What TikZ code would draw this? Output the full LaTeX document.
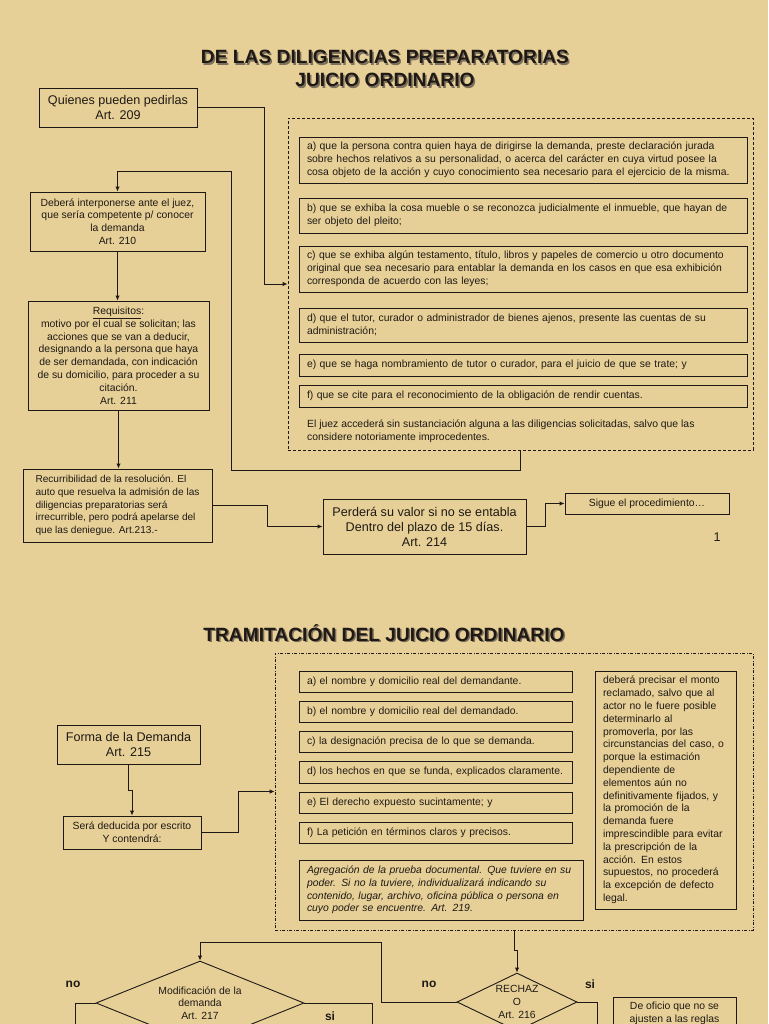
\documentclass[tikz,border=0pt]{standalone}
\usepackage{fontspec}
\setmainfont{Liberation Sans}
\usetikzlibrary{arrows.meta,shapes.geometric,calc}
\definecolor{parch}{RGB}{231,208,152}
\definecolor{ink}{RGB}{30,25,20}
\definecolor{shade}{RGB}{125,112,92}
\begin{document}
\begin{tikzpicture}[x=1pt,y=-1pt,
  box/.style={draw=ink, line width=0.9pt, inner sep=0pt, text=ink, align=center},
  lbox/.style={box, align=left, inner xsep=8pt},
  small/.style={font=\fontsize{10.4}{12.8}\selectfont},
  big/.style={font=\fontsize{12.6}{15}\selectfont},
  mid/.style={font=\fontsize{12.6}{15}\selectfont},
  title/.style={font=\fontsize{19.2}{23}\selectfont\bfseries, text=ink, inner sep=0pt},
  shadow/.style={font=\fontsize{19.2}{23}\selectfont\bfseries, text=shade, inner sep=0pt},
  dbox1/.style={draw=ink, line width=0.8pt, dash pattern=on 3pt off 2pt, inner sep=0pt},
  dbox2/.style={draw=ink, line width=0.8pt, dash pattern=on 3pt off 1.5pt on 1pt off 1.5pt, inner sep=0pt},
  conn/.style={draw=ink, line width=1pt},
  arr/.style={conn, -{Latex[length=5pt,width=4.5pt]}},
  yn/.style={font=\fontsize{12}{14}\selectfont\bfseries, text=ink, inner sep=0pt},
  dia/.style={draw=ink, line width=0.9pt, diamond, inner sep=0pt, align=center, text=ink, small}
]
\useasboundingbox (0,0) rectangle (768,1024);
\fill[parch] (0,0) rectangle (768,1024);
\clip (0,0) rectangle (768,1024);

% ---------- titles ----------
\node[shadow] (t1s) at (386.5,58.5) {DE LAS DILIGENCIAS PREPARATORIAS};
\node[title] (t1) at (385,57) {DE LAS DILIGENCIAS PREPARATORIAS};
\node[shadow] (t2s) at (386.5,81.5) {JUICIO ORDINARIO};
\node[title] (t2) at (385,80) {JUICIO ORDINARIO};
\node[shadow] (t3s) at (385.5,634.5) {TRAMITACIÓN DEL JUICIO ORDINARIO};
\node[title] (t3) at (384,633) {TRAMITACIÓN DEL JUICIO ORDINARIO};

% ---------- section 1 ----------
\node[box, big, minimum width=158, minimum height=39] (q) at (118,107.5) {Quienes pueden pedirlas\\Art. 209};
\node[box, small, minimum width=175, minimum height=59] (deb) at (117.5,221.5)
  {Deberá interponerse ante el juez,\\que sería competente p/ conocer\\la demanda\\Art. 210};
\node[box, small, minimum width=181, minimum height=109] (req) at (118.5,355.5)
  {\underline{Requisitos}:\\motivo por el cual se solicitan; las\\acciones que se van a deducir,\\designando a la persona que haya\\de ser demandada, con indicación\\de su domicilio, para proceder a su\\citación.\\Art. 211};
\node[box, font=\fontsize{10.1}{12.8}\selectfont, align=left, minimum width=189, minimum height=73] (rec) at (117.5,505.5)
  {Recurribilidad de la resolución. El\\auto que resuelva la admisión de las\\diligencias preparatorias será\\irrecurrible, pero podrá apelarse del\\que las deniegue. Art.213.-};
\node[box, mid, minimum width=203, minimum height=55] (perd) at (424.5,526.5)
  {Perderá su valor si no se entabla\\Dentro del plazo de 15 días.\\Art. 214};
\node[box, small, minimum width=164, minimum height=21] (sig) at (647,503.5) {Sigue el procedimiento…};
\node[mid, text=ink, inner sep=0pt] (pg) at (717,537) {1};

\node[dbox1, minimum width=465, minimum height=332] (d1) at (520.5,284) {};
\node[lbox, small, text width=432, minimum height=46] (ia) at (523,160)
  {a) que la persona contra quien haya de dirigirse la demanda, preste declaración jurada\\sobre hechos relativos a su personalidad, o acerca del carácter en cuya virtud posee la\\cosa objeto de la acción y cuyo conocimiento sea necesario para el ejercicio de la misma.};
\node[lbox, small, text width=432, minimum height=35] (ib) at (523,215.5)
  {b) que se exhiba la cosa mueble o se reconozca judicialmente el inmueble, que hayan de\\ser objeto del pleito;};
\node[lbox, small, text width=432, minimum height=46] (ic) at (523,269)
  {c) que se exhiba algún testamento, título, libros y papeles de comercio u otro documento\\original que sea necesario para entablar la demanda en los casos en que esa exhibición\\corresponda de acuerdo con las leyes;};
\node[lbox, small, text width=432, minimum height=34] (id) at (523,325)
  {d) que el tutor, curador o administrador de bienes ajenos, presente las cuentas de su\\administración;};
\node[lbox, small, text width=432, minimum height=22] (ie) at (523,365)
  {e) que se haga nombramiento de tutor o curador, para el juicio de que se trate; y};
\node[lbox, small, text width=432, minimum height=22] (if) at (523,396)
  {f) que se cite para el reconocimiento de la obligación de rendir cuentas.};
\node[small, text=ink, align=left, inner sep=0pt, anchor=west] (jt) at (307,431)
  {El juez accederá sin sustanciación alguna a las diligencias solicitadas, salvo que las\\considere notoriamente improcedentes.};

\draw[arr] (q.east) -- (264,107.5) |- (d1.west);
\draw[arr] (d1.south) |- (231,470) -- (231,172) -| (deb.north);
\draw[arr] (deb.south) -- (deb.south |- req.north);
\draw[arr] (req.south) -- (req.south |- rec.north);
\draw[arr] (rec.east) -- (267,505.5) |- (perd.west);
\draw[arr] (perd.east) -- (545,526.5) |- (sig.west);

% ---------- section 2 ----------
\node[dbox2, minimum width=478, minimum height=277] (d2) at (514,791.5) {};
\node[lbox, small, text width=257, minimum height=21] (ja) at (435.5,681.5) {a) el nombre y domicilio real del demandante.};
\node[lbox, small, text width=257, minimum height=21] (jb) at (435.5,711.5) {b) el nombre y domicilio real del demandado.};
\node[lbox, small, text width=257, minimum height=21] (jc) at (435.5,741.5) {c) la designación precisa de lo que se demanda.};
\node[lbox, small, text width=257, minimum height=22] (jd) at (435.5,772) {d) los hechos en que se funda, explicados claramente.};
\node[lbox, small, text width=257, minimum height=21] (je) at (435.5,802.5) {e) El derecho expuesto sucintamente; y};
\node[lbox, small, text width=257, minimum height=21] (jf) at (435.5,832.5) {f) La petición en términos claros y precisos.};
\node[lbox, small, font=\fontsize{10.4}{12.8}\selectfont\itshape, text width=268, minimum height=60] (agr) at (441,890)
  {Agregación de la prueba documental. Que tuviere en su\\poder. Si no la tuviere, individualizará indicando su\\contenido, lugar, archivo, oficina pública o persona en\\cuyo poder se encuentre. Art. 219.};
\node[lbox, small, text width=125, minimum height=238] (dp) at (665.5,790)
  {deberá precisar el monto\\reclamado, salvo que al\\actor no le fuere posible\\determinarlo al\\promoverla, por las\\circunstancias del caso, o\\porque la estimación\\dependiente de\\elementos aún no\\definitivamente fijados, y\\la promoción de la\\demanda fuere\\imprescindible para evitar\\la prescripción de la\\acción. En estos\\supuestos, no procederá\\la excepción de defecto\\legal.};

\node[box, big, minimum width=143, minimum height=39] (forma) at (128.5,744.5) {Forma de la Demanda\\Art. 215};
\node[box, small, minimum width=138, minimum height=33] (sera) at (132,832.5) {Será deducida por escrito\\Y contendrá:};

\coordinate (fm) at (128.5,790);
\draw[arr] (forma.south) -- (fm) -| (sera.north);
\draw[arr] (sera.east) -- (238,832.5) |- (d2.west);

\node[dia, minimum width=120, minimum height=58, shape aspect=2.07] (rech) at (517,1002) {RECHAZ\\O\\Art. 216};
\node[dia, minimum width=208, minimum height=84, shape aspect=2.5] (mod) at (200,1003) {Modificación de la\\demanda\\Art. 217};

\coordinate (dm) at (514,950);
\draw[arr] (d2.south) -- (dm) -| (rech.north);
\draw[arr] (rech.west) -| (381,942) -| (mod.north);

\coordinate (e1) at (75,1030);
\coordinate (e2) at (372,1030);
\coordinate (e3) at (597,1030);
\draw[conn] (mod.west) -| (e1);
\draw[conn] (mod.east) -| (e2);
\draw[conn] (rech.east) -| (e3);

\node[yn] (no1) at (73,984) {no};
\node[yn] (si1) at (330,1016) {si};
\node[yn] (no2) at (429,984) {no};
\node[yn] (si2) at (590,984) {si};

\node[box, minimum width=123, minimum height=70, anchor=north] (ofi) at (674.5,997) {};
\node[small, text=ink, align=center, inner sep=0pt, anchor=north] (ofit) at ($(ofi.north)+(0,5)$) {De oficio que no se\\ajusten a las reglas};
\end{tikzpicture}
\end{document}
